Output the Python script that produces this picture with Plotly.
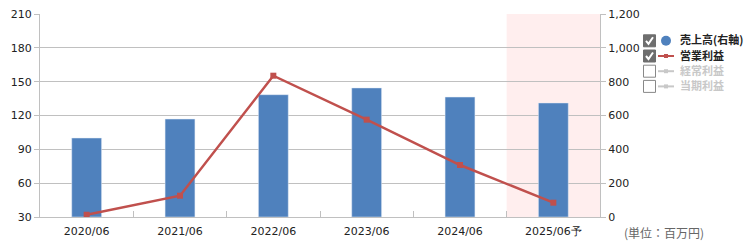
import plotly.graph_objects as go

categories = ["2020/06", "2021/06", "2022/06", "2023/06", "2024/06", "2025/06予"]
sales = [467, 579, 723, 763, 709, 674]          # 売上高 (right axis)
op_profit = [32, 48.9, 155.3, 116.3, 76.1, 42.7]  # 営業利益 (left axis)
left_ticks = [30, 60, 90, 120, 150, 180, 210]
right_ticks = [0, 200, 400, 600, 800, 1000, 1200]
legend_labels = ["売上高(右軸)", "営業利益", "経常利益", "当期利益"]
legend_active = [True, True, False, False]
unit_label = "(単位：百万円)"

W, H = 752, 245
ML, MR, MT, MB = 40, 152, 14, 28
PW, PH = W - ML - MR, H - MT - MB

def px(x):
    return (x - ML) / PW

def py(y):
    return (H - MB - y) / PH

BLUE = "#4F81BD"
RED = "#C0504D"
GRID = "#C0C0C0"
TXT = "#222222"

fig = go.Figure()
# bars on primary axis (drawn on the right side), line on overlaying left axis so it is on top
fig.add_trace(go.Bar(x=categories, y=sales, yaxis="y", marker_color=BLUE,
                     width=0.32, name=legend_labels[0], showlegend=False))
fig.add_trace(go.Scatter(x=categories, y=op_profit, yaxis="y2", mode="lines+markers",
                         line=dict(color=RED, width=2.5),
                         marker=dict(symbol="square", size=6, color=RED),
                         name=legend_labels[1], showlegend=False))

shapes = [dict(type="rect", xref="x", yref="paper", x0=4.5, x1=5.5, y0=0, y1=1,
               fillcolor="#FFEEEE", line_width=0, layer="below")]
annotations = []

row_y = [40.8, 56.0, 71.2, 86.4]
for i, (lab, act) in enumerate(zip(legend_labels, legend_active)):
    yc = row_y[i]
    shapes.append(dict(type="rect", xref="paper", yref="paper",
                       x0=px(643.5), x1=px(655.5), y0=py(yc + 6), y1=py(yc - 6),
                       fillcolor="#6E6E6E" if act else "#FFFFFF",
                       line=dict(color="#6E6E6E" if act else "#888888", width=1)))
    if act:
        path = "M {} {} L {} {} L {} {}".format(
            px(646), py(yc), px(648.5), py(yc + 3), px(653), py(yc - 3.5))
        shapes.append(dict(type="path", xref="paper", yref="paper", path=path,
                           line=dict(color="#FFFFFF", width=2)))
    col = TXT if act else "#C8C8C8"
    if i == 0:
        shapes.append(dict(type="circle", xref="paper", yref="paper",
                           x0=px(661), x1=px(671), y0=py(yc + 5), y1=py(yc - 5),
                           fillcolor=BLUE, line_width=0))
    else:
        lc = RED if act else "#C8C8C8"
        shapes.append(dict(type="line", xref="paper", yref="paper",
                           x0=px(658), x1=px(674), y0=py(yc), y1=py(yc),
                           line=dict(color=lc, width=2)))
        shapes.append(dict(type="rect", xref="paper", yref="paper",
                           x0=px(664), x1=px(668), y0=py(yc + 2), y1=py(yc - 2),
                           fillcolor=lc, line_width=0))
    annotations.append(dict(xref="paper", yref="paper", x=px(678), y=py(yc - 1.5),
                            xanchor="left", yanchor="middle", showarrow=False,
                            text="<b>" + lab + "</b>",
                            font=dict(family="Noto Sans CJK JP", size=11, color=col)))

annotations.append(dict(xref="paper", yref="paper", x=px(622), y=py(232),
                        xanchor="left", yanchor="middle", showarrow=False,
                        text=unit_label,
                        font=dict(family="Noto Sans CJK JP", size=12, color="#666666")))

fig.update_layout(
    width=W, height=H,
    margin=dict(l=ML, r=MR, t=MT, b=MB, pad=0, autoexpand=False),
    paper_bgcolor="white", plot_bgcolor="rgba(0,0,0,0)",
    showlegend=False,
    font=dict(family="DejaVu Sans", size=11, color=TXT),
    xaxis=dict(type="category", showgrid=False, showline=True, linecolor=GRID,
               linewidth=1, ticks="inside", tickson="boundaries", ticklen=6,
               tickcolor=GRID, tickfont=dict(size=11, color=TXT),
               range=[-0.5, 5.5], automargin=False, ticklabelstandoff=4),
    yaxis=dict(range=[0, 1200], tickvals=right_ticks, side="right",
               showgrid=True, gridcolor=GRID, gridwidth=1,
               showline=True, linecolor=GRID, ticks="outside",
               ticklen=5, tickcolor=GRID, zeroline=False, tickformat=",",
               tickfont=dict(size=11, color=TXT), automargin=False),
    yaxis2=dict(range=[30, 210], tickvals=left_ticks, overlaying="y", side="left",
                showgrid=False, showline=True, linecolor=GRID, ticks="outside",
                ticklen=5, tickcolor=GRID, zeroline=False,
                tickfont=dict(size=11, color=TXT), automargin=False),
    shapes=shapes, annotations=annotations,
)

fig.write_html("out.html")
